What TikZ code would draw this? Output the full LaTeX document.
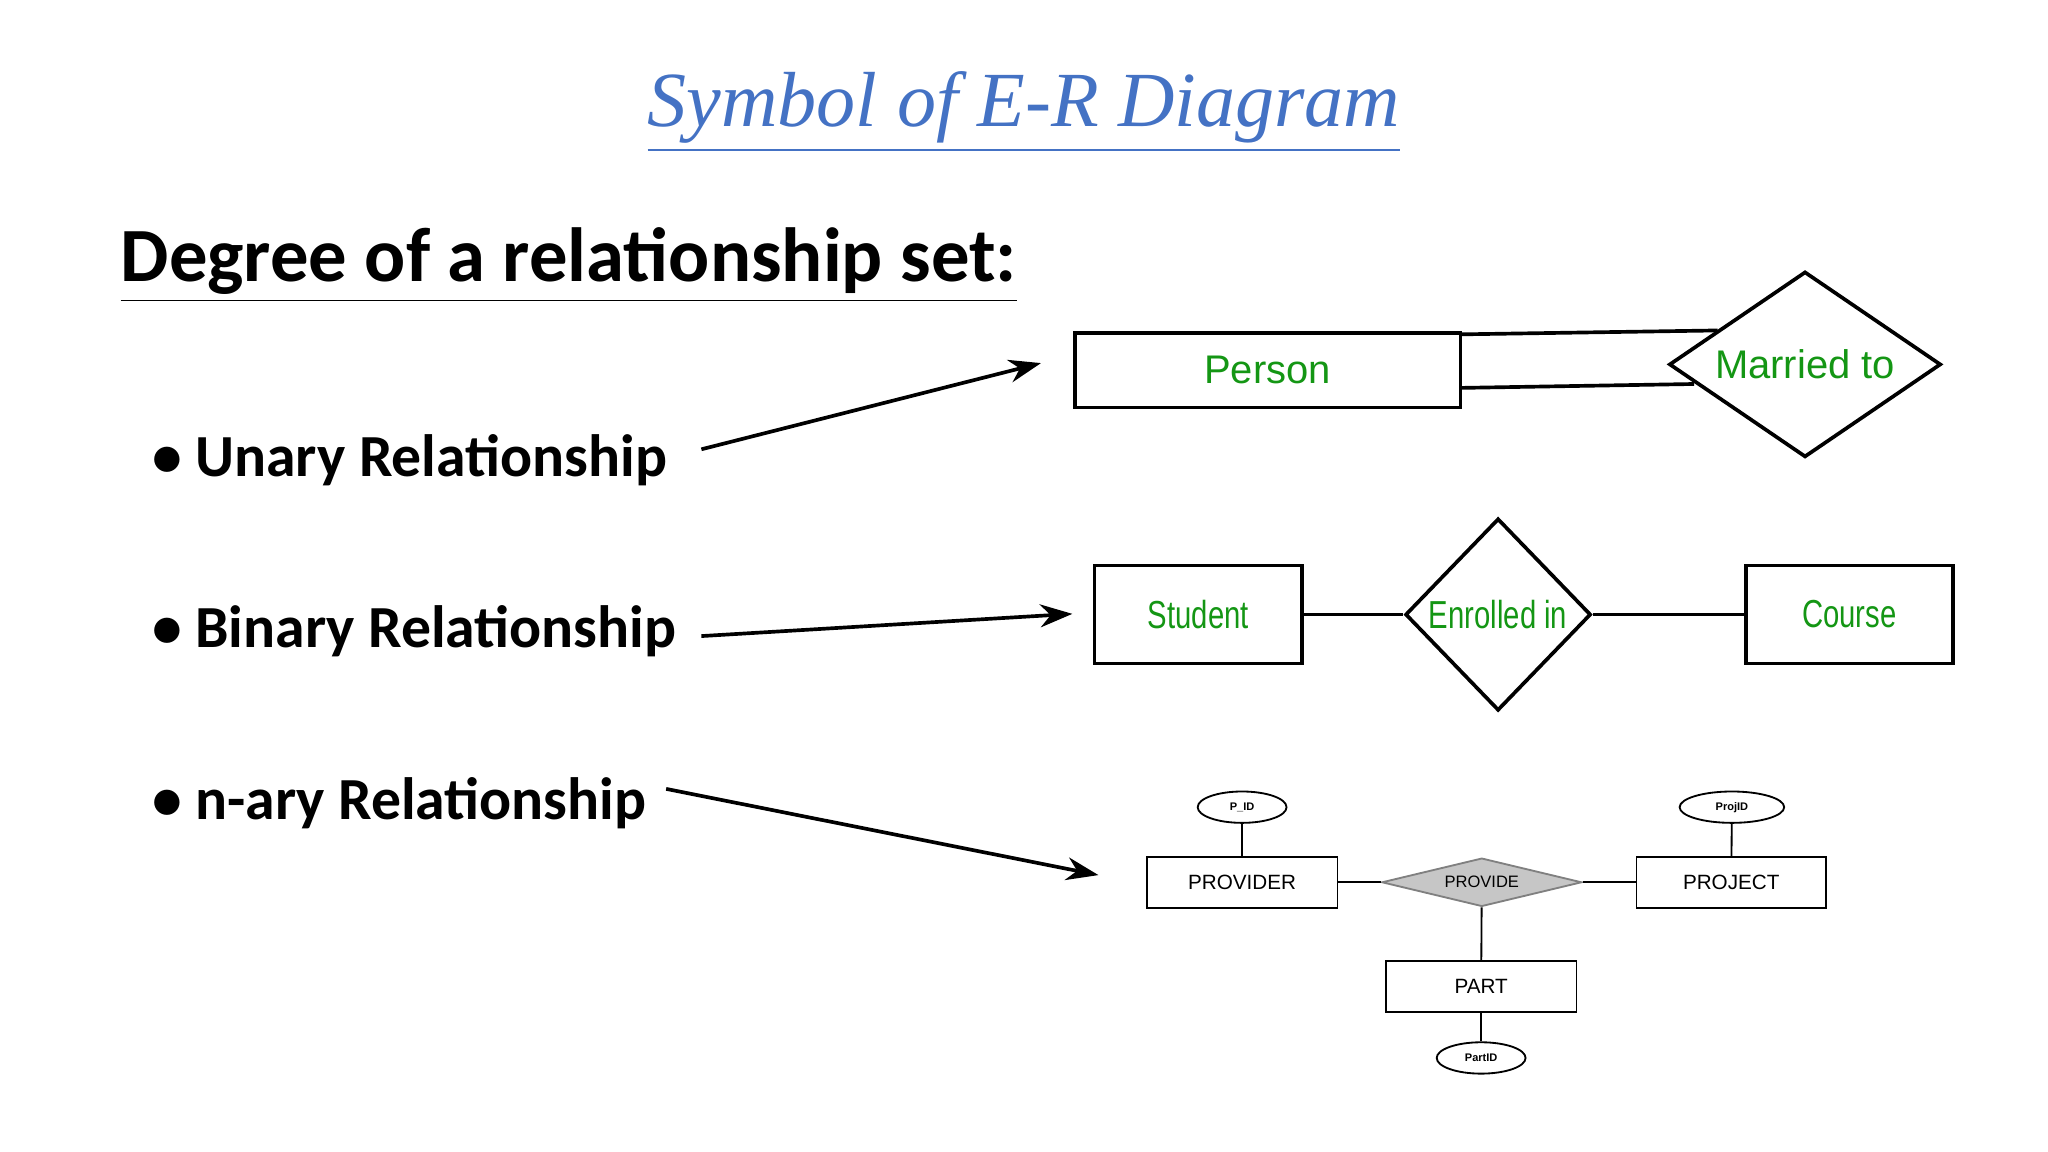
\documentclass[tikz,border=0pt]{standalone}
\usepackage{fontspec}
\setmainfont{Carlito}
\newfontfamily\arialfont{Liberation Sans}
\newfontfamily\titlefont{Liberation Serif}
\usetikzlibrary{shapes.geometric,arrows.meta}
\definecolor{titleblue}{RGB}{68,114,196}
\definecolor{erggreen}{RGB}{20,150,20}
\tikzset{
  ent/.style={draw,thick,inner sep=0pt,font=\arialfont\fontsize{8.7}{8.7}\selectfont,text=erggreen},
  rel/.style={draw,thick,diamond,inner sep=0pt,font=\arialfont\fontsize{8.7}{8.7}\selectfont,text=erggreen},
  narrow/.style={font=\arialfont\fontsize{8.5}{8.5}\selectfont\addfontfeature{FakeStretch=0.75}},
  sent/.style={draw,inner sep=0pt,font=\arialfont\fontsize{4.5}{4.5}\selectfont},
  attr/.style={draw,ellipse,inner sep=0pt,font=\arialfont\fontsize{2.4}{2.4}\selectfont\bfseries},
  ptr/.style={thick,-{Stealth[length=7pt,width=5pt]}},
  bul/.style={anchor=west,font=\fontsize{13}{13}\selectfont\bfseries}
}
\begin{document}
\begin{tikzpicture}[x=0.01cm,y=-0.01cm]
\useasboundingbox (0,0) rectangle (1568,882);
% headings
\node[text=titleblue,font=\titlefont\itshape\fontsize{17}{17}\selectfont] (title) at (784,86) {\underline{Symbol of E-R Diagram}};
\node[anchor=west,font=\fontsize{16.7}{16.7}\selectfont\bfseries] (degree) at (80,203) {\underline{Degree of a relationship set:}};
\node[bul] (unary) at (104,352) {\textbullet\ Unary Relationship};
\node[bul] (binary) at (104,483) {\textbullet\ Binary Relationship};
\node[bul] (nary) at (104,615) {\textbullet\ n-ary Relationship};
% unary
\node[ent,minimum width=2.95cm,minimum height=0.57cm] (person) at (970.5,283.5) {Person};
\node[rel,aspect=1.5,minimum width=2.08cm,minimum height=1.42cm] (married) at (1382,279) {Married to};
\coordinate (pa) at (1118,256); \coordinate (pb) at (1118,297);
\coordinate (ma) at (1315,253); \coordinate (mb) at (1297,294);
\draw[thick] (pa) -- (ma);
\draw[thick] (pb) -- (mb);
% binary
\node[ent,narrow,minimum width=1.59cm,minimum height=0.75cm] (student) at (917.5,470.5) {Student};
\node[rel,narrow,minimum width=1.42cm,minimum height=1.47cm] (enrolled) at (1147,470.5) {Enrolled in};
\node[ent,narrow,minimum width=1.58cm,minimum height=0.75cm] (course) at (1416,470.5) {Course};
\draw[thick] (student) -- (enrolled);
\draw[thick] (enrolled) -- (course);
% n-ary
\node[sent,minimum width=1.46cm,minimum height=0.39cm] (provider) at (951,675.5) {PROVIDER};
\node[sent,diamond,fill=gray!45,draw=gray,aspect=4,minimum width=1.53cm,minimum height=0.37cm,font=\arialfont\fontsize{3.6}{3.6}\selectfont] (provide) at (1134.5,675.5) {PROVIDE};
\node[sent,minimum width=1.45cm,minimum height=0.39cm] (project) at (1325.5,675.5) {PROJECT};
\node[sent,minimum width=1.46cm,minimum height=0.39cm] (part) at (1134,755.5) {PART};
\node[attr,minimum width=0.68cm,minimum height=0.24cm] (pid) at (951,618) {P\_ID};
\node[attr,minimum width=0.8cm,minimum height=0.24cm] (projid) at (1326,618) {ProjID};
\node[attr,minimum width=0.68cm,minimum height=0.24cm] (partid) at (1134,810) {PartID};
\draw (provider) -- (provide);
\draw (provide) -- (project);
\draw (provide) -- (part);
\draw (pid) -- (provider);
\draw (projid) -- (project);
\draw (part) -- (partid);
% pointers
\coordinate (u0) at (537,344); \coordinate (u1) at (797,278);
\coordinate (b0) at (537,487); \coordinate (b1) at (821,470);
\coordinate (n0) at (510,604); \coordinate (n1) at (841,670);
\draw[ptr] (u0) -- (u1);
\draw[ptr] (b0) -- (b1);
\draw[ptr] (n0) -- (n1);
\end{tikzpicture}
\end{document}
